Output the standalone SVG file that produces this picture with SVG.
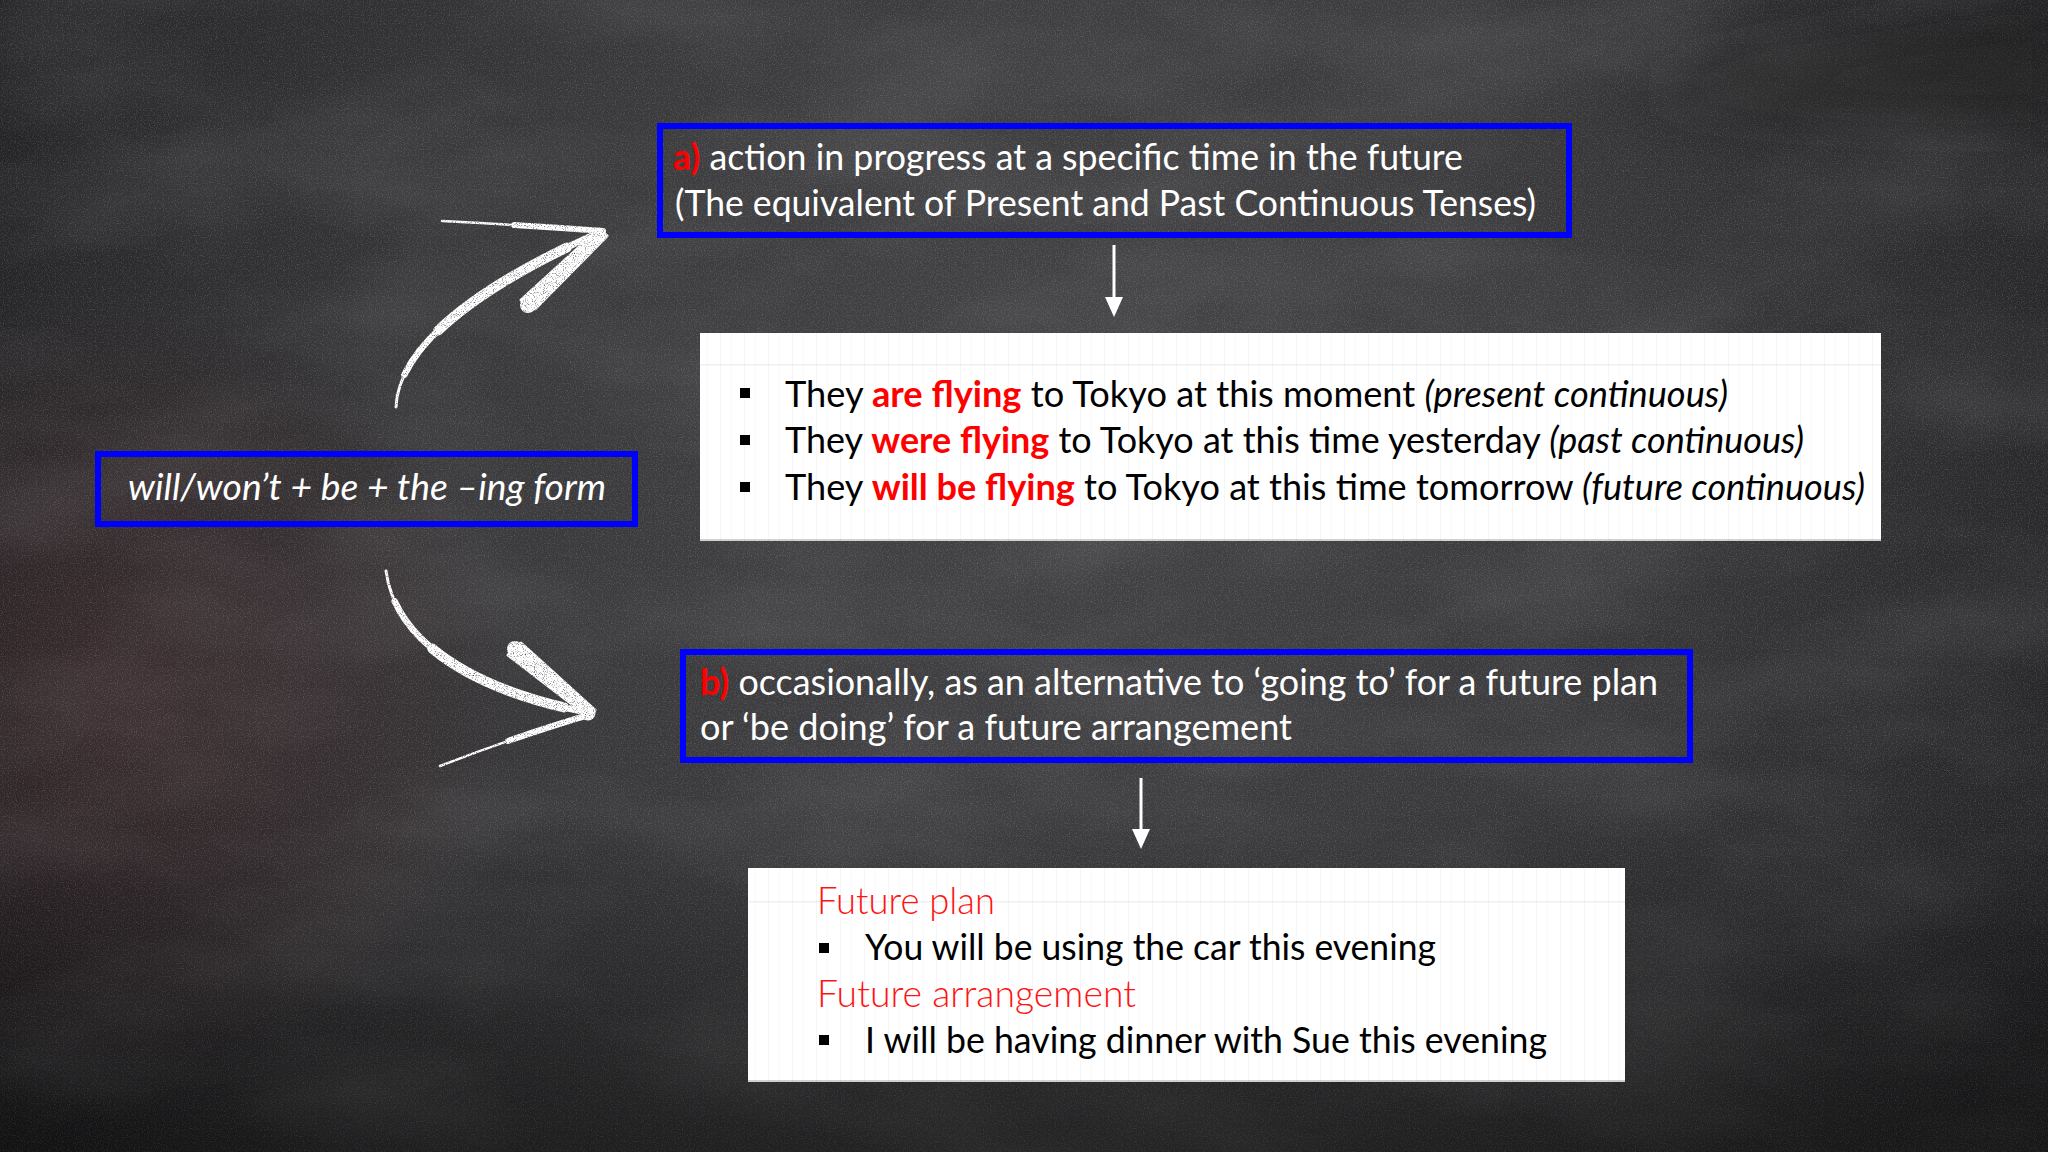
<svg xmlns="http://www.w3.org/2000/svg" width="2048" height="1152" viewBox="0 0 2048 1152">
  <defs>
    <radialGradient id="board" cx="1050" cy="430" r="1250" gradientUnits="userSpaceOnUse">
      <stop offset="0" stop-color="#444446"/>
      <stop offset="0.45" stop-color="#39393b"/>
      <stop offset="0.8" stop-color="#29292b"/>
      <stop offset="1" stop-color="#1b1b1d"/>
    </radialGradient>
    <radialGradient id="redtint" cx="120" cy="700" r="420" gradientUnits="userSpaceOnUse">
      <stop offset="0" stop-color="#4a2a2c" stop-opacity="0.45"/>
      <stop offset="1" stop-color="#4a2a2c" stop-opacity="0"/>
    </radialGradient>
    <linearGradient id="bottomdark" x1="0" y1="0" x2="0" y2="1">
      <stop offset="0.7" stop-color="#000" stop-opacity="0"/>
      <stop offset="1" stop-color="#000" stop-opacity="0.35"/>
    </linearGradient>
    <filter id="speck" x="0" y="0" width="100%" height="100%">
      <feTurbulence type="fractalNoise" baseFrequency="0.85" numOctaves="2" seed="4"/>
      <feColorMatrix type="matrix" values="0 0 0 0 1  0 0 0 0 1  0 0 0 0 1  1.8 0 0 0 -0.85"/>
    </filter>
    <filter id="cloud" x="0" y="0" width="100%" height="100%">
      <feTurbulence type="fractalNoise" baseFrequency="0.004 0.009" numOctaves="4" seed="11"/>
      <feColorMatrix type="matrix" values="0 0 0 0 1  0 0 0 0 1  0 0 0 0 1  1.2 0 0 0 -0.45"/>
    </filter>
    <filter id="soft" x="-30%" y="-60%" width="160%" height="220%">
      <feGaussianBlur stdDeviation="30"/>
    </filter>
    <filter id="chalk" x="-5%" y="-5%" width="110%" height="110%">
      <feTurbulence type="fractalNoise" baseFrequency="1.1" numOctaves="1" seed="7" result="n"/>
      <feColorMatrix in="n" type="matrix" values="0 0 0 0 0  0 0 0 0 0  0 0 0 0 0  0 0 0 -3 2.6" result="m"/>
      <feComposite in="SourceGraphic" in2="m" operator="in"/>
    </filter>
    <pattern id="ruled" width="24" height="20" patternUnits="userSpaceOnUse">
      <rect width="24" height="20" fill="#ffffff"/>
      <rect x="0" width="1" height="20" fill="#000" fill-opacity="0.035"/>
      <rect x="11" width="1" height="20" fill="#000" fill-opacity="0.02"/>
    </pattern>
    <marker id="ah" viewBox="0 0 20 18" refX="2" refY="9" markerWidth="20" markerHeight="18" markerUnits="userSpaceOnUse" orient="auto">
      <path d="M0,0 L20,9 L0,18 z" fill="#ffffff"/>
    </marker>
    <style>
      .t { font-family: Lato, 'Liberation Sans', 'Noto Sans', sans-serif; font-size: 37px; }
      .w { fill: #ffffff; }
      .k { fill: #000000; }
      .r { fill: #ff0000; font-weight: 700; }
      .it { font-style: italic; }
      .lt { fill: #ff1414; font-weight: 300; }
      .frame { fill: none; stroke: #0000ff; stroke-width: 6; }
      .card { fill: url(#ruled); }
      .bul { fill: #000000; }
      .conn { fill: none; stroke: #ffffff; stroke-width: 3; }
      .ch { fill: none; stroke: #ffffff; stroke-linecap: round; stroke-linejoin: round; }
      .chf { fill: #ffffff; stroke: #ffffff; stroke-width: 3; stroke-linejoin: round; }
    </style>
  </defs>

  <!-- chalkboard background -->
  <g id="background">
    <rect width="2048" height="1152" fill="url(#board)"/>
    <rect width="2048" height="1152" fill="url(#redtint)"/>
    <rect width="2048" height="1152" filter="url(#cloud)" opacity="0.12"/>
    <rect width="2048" height="1152" filter="url(#speck)" opacity="0.22"/>
    <path d="M1650,80 C1780,40 1950,20 2060,10 L2060,120 C1950,130 1800,120 1650,100 z" fill="#1a1a1c" opacity="0.45" filter="url(#soft)"/>
    <path d="M1300,120 C1420,90 1560,60 1700,40" fill="none" stroke="#ffffff" stroke-width="40" opacity="0.04" filter="url(#soft)"/>
    <rect width="2048" height="1152" fill="url(#bottomdark)"/>
  </g>

  <!-- formula node -->
  <g id="node-formula">
    <rect class="frame" x="98" y="454" width="537" height="70"/>
    <text class="t w it" x="128" y="500" textLength="478" lengthAdjust="spacingAndGlyphs">will/won’t + be + the –ing form</text>
  </g>

  <!-- a) node -->
  <g id="node-a">
    <rect class="frame" x="660" y="126" width="909" height="109"/>
    <text class="t w" x="673" y="170" textLength="790" lengthAdjust="spacingAndGlyphs"><tspan class="r">a)</tspan> action in progress at a specific time in the future</text>
    <text class="t w" x="675" y="216" textLength="861" lengthAdjust="spacingAndGlyphs">(The equivalent of Present and Past Continuous Tenses)</text>
  </g>

  <!-- examples for a) -->
  <g id="node-a-examples">
    <rect class="card" x="700" y="333" width="1181" height="208"/>
    <rect x="700" y="364" width="1181" height="1.5" fill="#000" fill-opacity="0.06"/>
    <rect x="700" y="539" width="1181" height="2" fill="#000" fill-opacity="0.18"/>
    <rect class="bul" x="740" y="388" width="10" height="10"/>
    <rect class="bul" x="740" y="435" width="10" height="10"/>
    <rect class="bul" x="740" y="482" width="10" height="10"/>
    <text class="t k" x="785" y="407" textLength="943" lengthAdjust="spacingAndGlyphs">They <tspan class="r">are flying</tspan> to Tokyo at this moment <tspan class="it">(present continuous)</tspan></text>
    <text class="t k" x="785" y="453" textLength="1019" lengthAdjust="spacingAndGlyphs">They <tspan class="r">were flying</tspan> to Tokyo at this time yesterday <tspan class="it">(past continuous)</tspan></text>
    <text class="t k" x="785" y="500" textLength="1080" lengthAdjust="spacingAndGlyphs">They <tspan class="r">will be flying</tspan> to Tokyo at this time tomorrow <tspan class="it">(future continuous)</tspan></text>
  </g>

  <!-- b) node -->
  <g id="node-b">
    <rect class="frame" x="683" y="652" width="1007" height="108"/>
    <text class="t w" x="700" y="695" textLength="958" lengthAdjust="spacingAndGlyphs"><tspan class="r">b)</tspan> occasionally, as an alternative to ‘going to’ for a future plan</text>
    <text class="t w" x="700" y="740" textLength="592" lengthAdjust="spacingAndGlyphs">or ‘be doing’ for a future arrangement</text>
  </g>

  <!-- examples for b) -->
  <g id="node-b-examples">
    <rect class="card" x="748" y="868" width="877" height="214"/>
    <rect x="748" y="901" width="877" height="1.5" fill="#000" fill-opacity="0.06"/>
    <rect x="748" y="1080" width="877" height="2" fill="#000" fill-opacity="0.18"/>
    <text class="t lt" x="817" y="914" textLength="178" lengthAdjust="spacingAndGlyphs">Future plan</text>
    <rect class="bul" x="819" y="943" width="10" height="10"/>
    <text class="t k" x="865" y="960" textLength="571" lengthAdjust="spacingAndGlyphs">You will be using the car this evening</text>
    <text class="t lt" x="817" y="1007" textLength="319" lengthAdjust="spacingAndGlyphs">Future arrangement</text>
    <rect class="bul" x="819" y="1035" width="10" height="10"/>
    <text class="t k" x="865" y="1053" textLength="682" lengthAdjust="spacingAndGlyphs">I will be having dinner with Sue this evening</text>
  </g>

  <!-- connectors -->
  <g id="connectors">
    <path class="conn" d="M1114,245 V299" marker-end="url(#ah)"/>
    <path class="conn" d="M1141,778 V831" marker-end="url(#ah)"/>

    <g id="chalk-arrow-up" filter="url(#chalk)">
      <path class="ch" d="M396,407 C398,350 470,290 600,232" stroke-width="3"/>
      <path class="ch" d="M396,407 C398,350 470,290 600,232" pathLength="100" stroke-width="6.5" stroke-dasharray="88 200" stroke-dashoffset="-12"/>
      <path class="ch" d="M396,407 C398,350 470,290 600,232" pathLength="100" stroke-width="10" stroke-dasharray="55 200" stroke-dashoffset="-32"/>
      <path class="ch" d="M442,221 Q520,225 603,231" stroke-width="2.5"/>
      <path class="ch" d="M442,221 Q520,225 603,231" pathLength="100" stroke-width="6" stroke-dasharray="55 200" stroke-dashoffset="-45"/>
      <path class="chf" d="M599,229 L607,236 L535,309 L521,300 z"/>
      <circle cx="528" cy="305" r="8" fill="#ffffff"/>
    </g>

    <g id="chalk-arrow-down" filter="url(#chalk)">
      <path class="ch" d="M386,571 C395,640 470,690 590,713" stroke-width="3"/>
      <path class="ch" d="M386,571 C395,640 470,690 590,713" pathLength="100" stroke-width="6.5" stroke-dasharray="88 200" stroke-dashoffset="-12"/>
      <path class="ch" d="M386,571 C395,640 470,690 590,713" pathLength="100" stroke-width="10" stroke-dasharray="55 200" stroke-dashoffset="-35"/>
      <path class="chf" d="M595,710 L521,643 L508,655 L590,718 z"/>
      <circle cx="515" cy="649" r="8" fill="#ffffff"/>
      <path class="ch" d="M592,714 Q520,735 440,766" stroke-width="2.5"/>
      <path class="ch" d="M592,714 Q520,735 440,766" pathLength="100" stroke-width="6" stroke-dasharray="55 200"/>
      <circle cx="588" cy="713" r="7.5" fill="#ffffff"/>
    </g>
  </g>
</svg>
